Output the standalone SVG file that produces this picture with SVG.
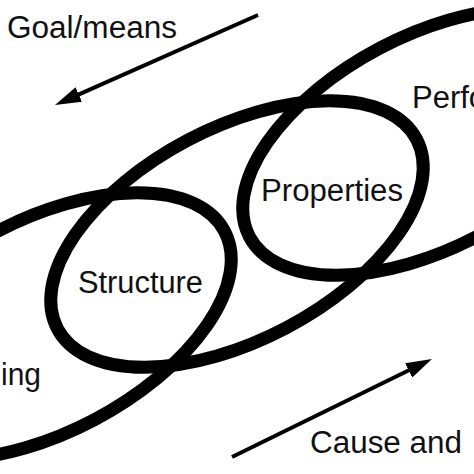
<svg xmlns="http://www.w3.org/2000/svg" width="474" height="474" viewBox="0 0 474 474">
<style>
.loop{fill:none;stroke:#000;stroke-width:13}
.arr{stroke:#000;stroke-width:4;fill:none}
.lbl{font-family:"Liberation Sans",Arial,Helvetica,sans-serif;font-size:31px;fill:#111}
</style>
<defs>
<marker id="head" markerUnits="userSpaceOnUse" viewBox="0 0 26 16" markerWidth="26" markerHeight="16" refX="6" refY="8" orient="auto">
<path d="M0,0 L26,8 L0,16 Z" fill="#000"/>
</marker>
</defs>
<rect width="474" height="474" fill="#fff"/>
<g id="processing">
<ellipse class="loop" cx="45" cy="326" rx="203" ry="106" transform="rotate(-27.8 45 326)"/>
<text class="lbl" x="1" y="385" textLength="40" lengthAdjust="spacingAndGlyphs">ing</text>
</g>
<g id="middle">
<ellipse class="loop" cx="237" cy="234" rx="203" ry="106" transform="rotate(-27.8 237 234)"/>
</g>
<g id="performance">
<ellipse class="loop" cx="429" cy="142" rx="203" ry="106" transform="rotate(-27.8 429 142)"/>
<text class="lbl" x="412" y="108">Perfo</text>
</g>
<g id="structure">
<text class="lbl" x="78" y="293" textLength="125" lengthAdjust="spacingAndGlyphs">Structure</text>
</g>
<g id="properties">
<text class="lbl" x="261" y="200.5" textLength="142" lengthAdjust="spacingAndGlyphs">Properties</text>
</g>
<g id="connectors">
<line class="arr" x1="258" y1="15" x2="73.3" y2="96.9" marker-end="url(#head)"/>
<line class="arr" x1="232" y1="457" x2="414" y2="367.8" marker-end="url(#head)"/>
</g>
<g id="labels">
<text class="lbl" x="7" y="38" textLength="170" lengthAdjust="spacingAndGlyphs">Goal/means</text>
<text class="lbl" x="310" y="453" textLength="152" lengthAdjust="spacingAndGlyphs">Cause and</text>
</g>
</svg>
